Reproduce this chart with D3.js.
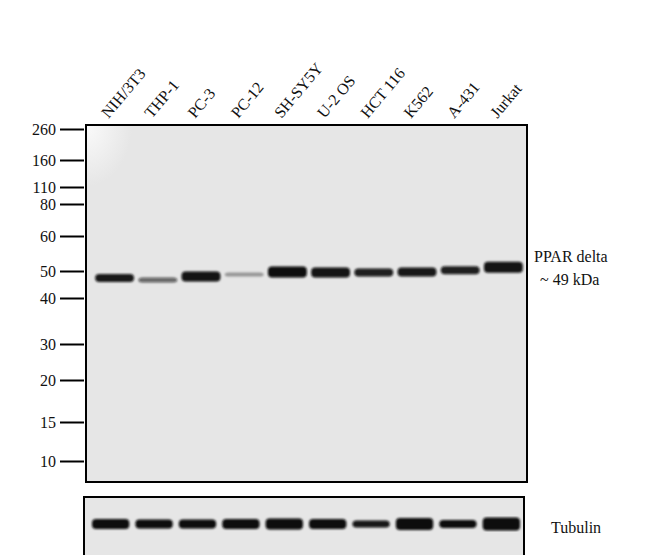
<!DOCTYPE html><html><head><script src="https://cdn.jsdelivr.net/npm/d3@7"></script>
<style>body{margin:0;background:#fff}text{font-family:"Liberation Serif",serif;fill:#111}</style></head><body>
<svg id="c" width="650" height="555"></svg>
<script>
const lanes=["NIH/3T3","THP-1","PC-3","PC-12","SH-SY5Y","U-2 OS","HCT 116","K562","A-431","Jurkat"];
const markers=[260,160,110,80,60,50,40,30,20,15,10];
const markerY=[129,160,187,204,236,271,298,344,380,422,461];
const bandKDa=[47.2,46.4,47.8,48.6,49.6,49.4,49.4,49.6,50.2,51.0];
const bandIntensity=[0.95,0.6,0.97,0.35,1,0.97,0.92,0.95,0.92,0.97];
const bandThick=[8,5,10,4,11,10,8,9,8,11];
const tubulinIntensity=[1,1,1,1,1,1,0.95,1,1,1];
const tubulinThick=[10,9,9,10,11,10,7,12,8,13];
const svg=d3.select("#c");
const defs=svg.append("defs");
defs.append("filter").attr("id","b").append("feGaussianBlur").attr("stdDeviation",1.2);
const rg=defs.append("radialGradient").attr("id","g").attr("cx",0).attr("cy",0).attr("r",1);
rg.append("stop").attr("offset",0).attr("stop-color","#fafafa");
rg.append("stop").attr("offset",1).attr("stop-color","#e6e6e6");
const y=d3.scaleLog().domain(markers).range(markerY);
const x=d3.scaleBand().domain(lanes).range([93,525]).paddingInner(0.1).paddingOuter(0.05);
const xt=d3.scaleBand().domain(lanes).range([92,520]).paddingInner(0.14);
svg.append("rect").attr("x",86).attr("y",125).attr("width",441).attr("height",357).attr("fill","#e6e6e6").attr("stroke","#000").attr("stroke-width",2);
svg.append("rect").attr("x",87).attr("y",126).attr("width",45).attr("height",60).attr("fill","url(#g)");
const axis=d3.axisLeft(y).tickValues(markers).tickFormat(d3.format("d")).tickSize(24).tickPadding(4);
const ag=svg.append("g").attr("transform","translate(84,0)").call(axis);
ag.select(".domain").remove();
ag.selectAll("line").attr("stroke","#000").attr("stroke-width",2);
ag.selectAll("text").attr("font-size",16).attr("fill","#111").style("font-family","Liberation Serif");
svg.append("g").attr("filter","url(#b)").selectAll("rect").data(lanes).join("rect")
 .attr("x",d=>x(d)).attr("width",x.bandwidth())
 .attr("y",(d,i)=>y(bandKDa[i])-bandThick[i]/2).attr("height",(d,i)=>bandThick[i])
 .attr("rx",4).attr("fill","#0c0c0c").attr("opacity",(d,i)=>bandIntensity[i]);
svg.append("g").selectAll("text").data(lanes).join("text")
 .attr("transform",d=>`translate(${x(d)+x.bandwidth()/2-6},119) rotate(-50)`)
 .attr("font-size",16).text(d=>d);
svg.append("text").attr("x",534).attr("y",262).attr("font-size",16).text("PPAR delta");
svg.append("text").attr("x",540).attr("y",285).attr("font-size",16).text("~  49 kDa");
svg.append("rect").attr("x",84).attr("y",497).attr("width",440).attr("height",60).attr("fill","#e6e6e6").attr("stroke","#000").attr("stroke-width",2);
svg.append("g").attr("filter","url(#b)").selectAll("rect").data(lanes).join("rect")
 .attr("x",d=>xt(d)).attr("width",xt.bandwidth())
 .attr("y",(d,i)=>524-tubulinThick[i]/2).attr("height",(d,i)=>tubulinThick[i])
 .attr("rx",4).attr("fill","#0c0c0c").attr("opacity",(d,i)=>tubulinIntensity[i]);
svg.append("text").attr("x",551).attr("y",533).attr("font-size",16).text("Tubulin");
</script></body></html>
